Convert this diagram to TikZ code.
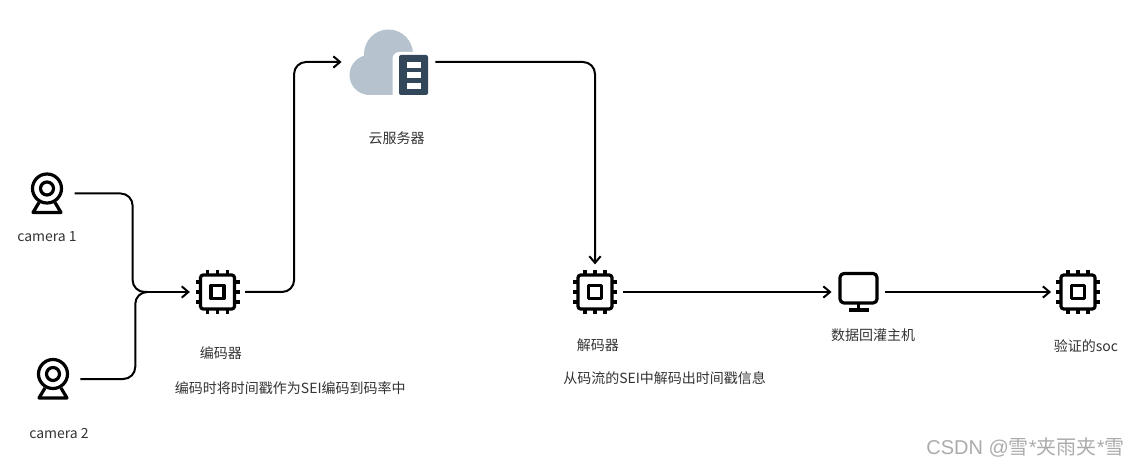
\documentclass[tikz,border=0pt]{standalone}
\usepackage{fontspec}
\setmainfont{Noto Sans CJK SC}
\newfontfamily\markfont{Liberation Sans}
\usetikzlibrary{arrows.meta,positioning}
\definecolor{inktext}{HTML}{333333}
\definecolor{cloudgrey}{HTML}{B6C3CF}
\definecolor{serverblue}{HTML}{33475B}
\definecolor{markgrey}{HTML}{ABABAB}
\tikzset{>/.tip={Straight Barb[length=5pt,width=8.5pt,line width=1.5pt]}}
\tikzset{flow/.style={line width=1.5pt,rounded corners=9pt}}
\tikzset{iconnode/.style={minimum size=#1,inner sep=0pt}}
\tikzset{iconline/.style={line width=2.4pt,line join=round}}
\tikzset{caption/.style={font=\fontsize{10.5}{12}\selectfont,text=inktext,inner sep=0pt,text height=8pt,text depth=2pt}}
\tikzset{chip/.pic={
  \draw[iconline,rounded corners=2pt] (-17,-17) rectangle (17,17);
  \draw[iconline] (-6.5,-6.5) rectangle (6.5,6.5);
  \foreach \p in {-10,0,10}{
    \draw[iconline] (\p,-17) -- (\p,-22);
    \draw[iconline] (\p,17) -- (\p,22);
    \draw[iconline] (-17,\p) -- (-22,\p);
    \draw[iconline] (17,\p) -- (22,\p);
  }
}}
\tikzset{webcam/.pic={
  \draw[iconline] (0,-5) circle (14.5);
  \draw[iconline] (0,-5) circle (6.5);
  \draw[iconline] (-8,9) -- (-14,19) -- (14,19) -- (8,9);
}}
\tikzset{monitor/.pic={
  \draw[iconline,rounded corners=3pt] (-18.5,-18.5) rectangle (18.5,11);
  \draw[iconline] (0,11) -- (0,18);
  \draw[iconline] (-10,18) -- (10,18);
}}
\tikzset{cloudserver/.pic={
  \fill[cloudgrey] (0,-8) circle (24.5);
  \fill[cloudgrey] (-19,13) circle (20);
  \fill[cloudgrey] (-19,-7) rectangle (25,33);
  \fill[white,rounded corners=5pt] (4,-10) rectangle (45,38);
  \fill[serverblue,rounded corners=1.5pt] (10.5,-7) rectangle (39.5,33);
  \foreach \s in {0,10.5,21}{
    \fill[white] (18.5,\s) rectangle (32.5,\s+6);
  }
}}
\begin{document}
\begin{tikzpicture}[x=0.75pt,y=-0.75pt]
  \useasboundingbox (0,0) rectangle (1138,466);
  \node(cam1)[iconnode=41pt] at (47,193.5){};
  \node(cam2)[iconnode=40.5pt] at (53,379){};
  \node(enc)[iconnode=41pt] at (217.5,292){};
  \node(cloud)[iconnode=41pt,minimum width=70pt] at (388.5,62){};
  \node(dec)[iconnode=41pt] at (595,292){};
  \node(host)[iconnode=40pt] at (858.5,292){};
  \node(soc)[iconnode=40pt] at (1078,292){};
  \coordinate(merge) at (145,292);
  \pic at (cam1) {webcam};
  \pic at (cam2) {webcam};
  \pic at (enc) {chip};
  \pic at (cloud) {cloudserver};
  \pic at (dec) {chip};
  \pic at (host) {monitor};
  \pic at (soc) {chip};
  \node(cam1text)[caption,below=7pt of cam1]{camera 1};
  \node(cam2text)[caption,below=16pt of cam2,xshift=4.5pt]{camera 2};
  \node(enctext)[caption,below=21pt of enc,xshift=2.6pt]{编码器};
  \node(encnote)[caption,below=15.5pt of enctext,xshift=52pt]{编码时将时间戳作为SEI编码到码率中};
  \node(cloudtext)[caption,below=32pt of cloud,xshift=6pt]{云服务器};
  \node(dectext)[caption,below=15pt of dec,xshift=2.2pt]{解码器};
  \node(decnote)[caption,below=14pt of dectext,xshift=50pt]{从码流的SEI中解码出时间戳信息};
  \node(hosttext)[caption,below=8pt of host,xshift=11pt]{数据回灌主机};
  \node(soctext)[caption,below=16.5pt of soc,xshift=6pt]{验证的soc};
  \node(mark)[inner sep=0pt,text=markgrey,font=\fontsize{15}{17}\selectfont] at (1025.5,447){{\markfont CSDN @}雪{\markfont *}夹雨夹{\markfont *}雪};
  \draw[flow] (cam1.east) -- ++(58,0) |- (merge);
  \draw[flow] (cam2.east) -- ++(55,0) |- (merge);
  \draw[flow,->] (merge) -- (enc.west);
  \draw[flow,->] (enc.east) -- ++(49,0) |- (cloud.west);
  \draw[flow,->] (cloud.east) -| (dec.north);
  \draw[flow,->] (dec.east) -- (host.west);
  \draw[flow,->] (host.east) -- (soc.west);
\end{tikzpicture}
\end{document}
